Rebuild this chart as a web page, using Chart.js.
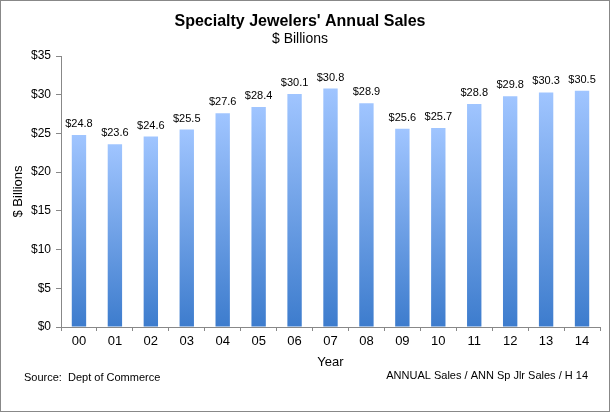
<!DOCTYPE html>
<html>
<head>
<meta charset="utf-8">
<script src="https://cdn.jsdelivr.net/npm/chart.js@4.4.1/dist/chart.umd.min.js"></script>
<style>
html,body{margin:0;padding:0;background:#fff;}
#wrap{width:610px;height:412px;position:relative;}
</style>
</head>
<body>
<div id="wrap"><canvas id="c" width="610" height="412"></canvas></div>
<script>
const years = ["00","01","02","03","04","05","06","07","08","09","10","11","12","13","14"];
const sales = [24.8,23.6,24.6,25.5,27.6,28.4,30.1,30.8,28.9,25.6,25.7,28.8,29.8,30.3,30.5];
const titleText = "Specialty Jewelers' Annual Sales";
const subtitleText = "$ Billions";
const yAxisTitle = "$ Billions";
const xAxisTitle = "Year";
const sourceNote = "Source:  Dept of Commerce";
const fileNote = "ANNUAL Sales / ANN Sp Jlr Sales / H 14";

const FONT = "'Liberation Sans', Arial, sans-serif";

const barLabels = {
  id: 'barLabels',
  afterDatasetsDraw(chart) {
    const ctx = chart.ctx;
    const meta = chart.getDatasetMeta(0);
    ctx.save();
    ctx.font = "11px " + FONT;
    ctx.fillStyle = "#000";
    ctx.textAlign = "center";
    ctx.textBaseline = "alphabetic";
    meta.data.forEach((el, i) => {
      ctx.fillText("$" + sales[i].toFixed(1), el.x, el.y - 8);
    });
    ctx.restore();
  }
};

const frame = {
  id: 'frame',
  afterDraw(chart) {
    const ctx = chart.ctx;
    ctx.save();
    ctx.font = "11px " + FONT;
    ctx.fillStyle = "#000";
    ctx.textBaseline = "middle";
    ctx.textAlign = "left";
    ctx.fillText(sourceNote, 24, 378);
    ctx.textAlign = "right";
    ctx.fillText(fileNote, 588, 376);
    ctx.strokeStyle = "#888";
    ctx.lineWidth = 1;
    ctx.strokeRect(0.5, 0.5, 609, 411);
    ctx.restore();
  }
};

new Chart(document.getElementById('c'), {
  type: 'bar',
  data: {
    labels: years,
    datasets: [{
      data: sales,
      barPercentage: 0.4,
      categoryPercentage: 1,
      backgroundColor: (c) => {
        const chart = c.chart;
        if (!chart.chartArea) return '#6fa0e8';
        const y = chart.scales.y;
        const top = y.getPixelForValue(c.raw);
        const bot = y.getPixelForValue(0);
        const g = chart.ctx.createLinearGradient(0, top, 0, bot);
        g.addColorStop(0, '#a0c5ff');
        g.addColorStop(1, '#3d7ccd');
        return g;
      }
    }]
  },
  options: {
    responsive: false,
    animation: false,
    layout: { padding: { left: 0, right: 10, top: 0, bottom: 40 } },
    plugins: {
      legend: { display: false },
      tooltip: { enabled: false },
      title: {
        display: true, text: titleText, color: '#000',
        font: { family: FONT, size: 16, weight: 'bold' },
        padding: { top: 12, bottom: 0 }
      },
      subtitle: {
        display: true, text: subtitleText, color: '#000',
        font: { family: FONT, size: 14 },
        padding: { top: 0, bottom: 8 }
      }
    },
    scales: {
      x: {
        grid: { offset: true, drawOnChartArea: false, drawTicks: true, tickLength: 4, color: '#888' },
        border: { display: true, color: '#888' },
        ticks: { color: '#000', font: { family: FONT, size: 13 }, padding: 3, maxRotation: 0 },
        title: { display: true, text: xAxisTitle, color: '#000', font: { family: FONT, size: 13 }, padding: { top: 0, bottom: 2 } },
        afterFit: (s) => { s.height = 45; }
      },
      y: {
        min: 0, max: 35,
        ticks: { stepSize: 5, color: '#000', font: { family: FONT, size: 12 }, padding: 5,
          callback: (v) => '$' + v },
        grid: { drawOnChartArea: false, drawTicks: true, tickLength: 5, color: '#888' },
        border: { display: true, color: '#888' },
        title: { display: true, text: yAxisTitle, color: '#000', font: { family: FONT, size: 13 }, padding: { top: 11, bottom: 0 } },
        afterFit: (s) => { s.width = 61; }
      }
    }
  },
  plugins: [barLabels, frame]
});
</script>
</body>
</html>
